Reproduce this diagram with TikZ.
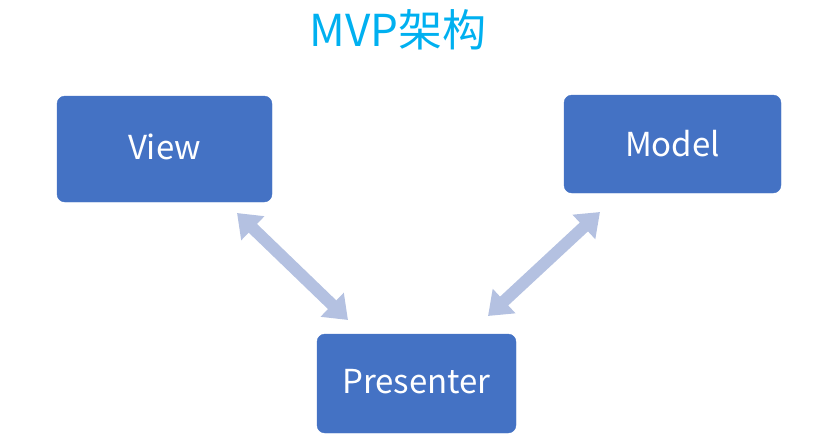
\documentclass[tikz,border=0pt]{standalone}
\usepackage{fontspec}
\setmainfont{Noto Sans CJK SC}
\usetikzlibrary{arrows.meta}
\definecolor{boxblue}{HTML}{4472C4}
\definecolor{arrowblue}{HTML}{B4C1E1}
\definecolor{titlecyan}{HTML}{00B0F0}
\begin{document}
\begin{tikzpicture}[x=1pt,y=-1pt,
  box/.style={draw=boxblue,fill=boxblue,rounded corners=8pt,text=white,font=\fontsize{33}{36}\selectfont},
  dbl/.style={draw=arrowblue,line width=12pt,{Triangle[width=32pt,length=22pt]}-{Triangle[width=32pt,length=22pt]}}]
\useasboundingbox (0,0) rectangle (816,440);
\node[text=titlecyan,font=\fontsize{44}{48}\selectfont] (title) at (398,30) {MVP架构};
\path[box] (57,96) rectangle (272,202);
\node[text=white,font=\fontsize{33}{36}\selectfont] (view) at (164.5,147) {View};
\path[box] (564,95) rectangle (781,193);
\node[text=white,font=\fontsize{33}{36}\selectfont] (model) at (672.5,144) {Model};
\path[box] (317,334) rectangle (516,433);
\node[text=white,font=\fontsize{33}{36}\selectfont] (presenter) at (416.5,382) {Presenter};
\coordinate (a1) at (237,213); \coordinate (a2) at (348,320);
\coordinate (b1) at (600,212); \coordinate (b2) at (488,316);
\draw[dbl] (a1) -- (a2);
\draw[dbl] (b1) -- (b2);
\end{tikzpicture}
\end{document}
